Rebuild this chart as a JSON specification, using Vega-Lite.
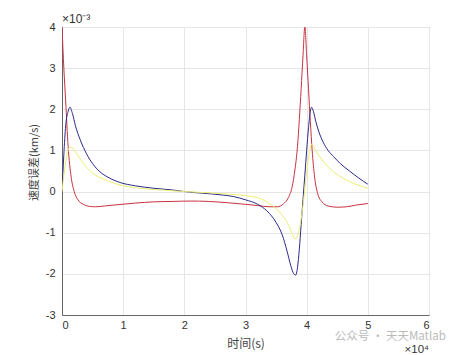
{
  "$schema": "https://vega.github.io/schema/vega-lite/v6.json",
  "width": 367,
  "height": 288,
  "autosize": {"type": "none"},
  "padding": {"left": 62, "top": 27, "right": 45, "bottom": 40},
  "background": "white",
  "config": {
    "view": {"stroke": "#666", "strokeWidth": 1},
    "axis": {
      "labelFont": "Liberation Sans",
      "labelFontSize": 11,
      "labelColor": "#333",
      "domainColor": "#666",
      "gridColor": "#e6e6e6",
      "ticks": false,
      "titleFontWeight": "normal",
      "titleColor": "#444",
      "titleFont": "Noto Sans CJK SC"
    }
  },
  "datasets": {
    "curves": [
      {"t": 0, "v": 4.0, "s": "r"},
      {"t": 0.03, "v": 3.0, "s": "r"},
      {"t": 0.06, "v": 2.2, "s": "r"},
      {"t": 0.1, "v": 1.1, "s": "r"},
      {"t": 0.15, "v": 0.35, "s": "r"},
      {"t": 0.2, "v": 0.0, "s": "r"},
      {"t": 0.26, "v": -0.2, "s": "r"},
      {"t": 0.35, "v": -0.31, "s": "r"},
      {"t": 0.45, "v": -0.36, "s": "r"},
      {"t": 0.55, "v": -0.37, "s": "r"},
      {"t": 0.7, "v": -0.35, "s": "r"},
      {"t": 0.9, "v": -0.32, "s": "r"},
      {"t": 1.2, "v": -0.28, "s": "r"},
      {"t": 1.5, "v": -0.25, "s": "r"},
      {"t": 1.8, "v": -0.24, "s": "r"},
      {"t": 2.1, "v": -0.23, "s": "r"},
      {"t": 2.4, "v": -0.24, "s": "r"},
      {"t": 2.7, "v": -0.27, "s": "r"},
      {"t": 3.0, "v": -0.31, "s": "r"},
      {"t": 3.2, "v": -0.34, "s": "r"},
      {"t": 3.4, "v": -0.37, "s": "r"},
      {"t": 3.52, "v": -0.37, "s": "r"},
      {"t": 3.62, "v": -0.3, "s": "r"},
      {"t": 3.7, "v": -0.15, "s": "r"},
      {"t": 3.76, "v": 0.1, "s": "r"},
      {"t": 3.81, "v": 0.55, "s": "r"},
      {"t": 3.85, "v": 1.1, "s": "r"},
      {"t": 3.88, "v": 1.75, "s": "r"},
      {"t": 3.91, "v": 2.5, "s": "r"},
      {"t": 3.94, "v": 3.3, "s": "r"},
      {"t": 3.97, "v": 4.0, "s": "r"},
      {"t": 4.0, "v": 3.3, "s": "r"},
      {"t": 4.03, "v": 2.5, "s": "r"},
      {"t": 4.06, "v": 1.7, "s": "r"},
      {"t": 4.09, "v": 1.0, "s": "r"},
      {"t": 4.13, "v": 0.35, "s": "r"},
      {"t": 4.18, "v": -0.05, "s": "r"},
      {"t": 4.25, "v": -0.25, "s": "r"},
      {"t": 4.35, "v": -0.35, "s": "r"},
      {"t": 4.5, "v": -0.38, "s": "r"},
      {"t": 4.65, "v": -0.37, "s": "r"},
      {"t": 4.8, "v": -0.33, "s": "r"},
      {"t": 5.0, "v": -0.29, "s": "r"},

      {"t": 0, "v": 0.0, "s": "b"},
      {"t": 0.03, "v": 0.9, "s": "b"},
      {"t": 0.06, "v": 1.6, "s": "b"},
      {"t": 0.1, "v": 1.95, "s": "b"},
      {"t": 0.13, "v": 2.05, "s": "b"},
      {"t": 0.17, "v": 1.9, "s": "b"},
      {"t": 0.22, "v": 1.6, "s": "b"},
      {"t": 0.3, "v": 1.25, "s": "b"},
      {"t": 0.4, "v": 0.92, "s": "b"},
      {"t": 0.5, "v": 0.68, "s": "b"},
      {"t": 0.62, "v": 0.48, "s": "b"},
      {"t": 0.75, "v": 0.35, "s": "b"},
      {"t": 0.95, "v": 0.22, "s": "b"},
      {"t": 1.2, "v": 0.14, "s": "b"},
      {"t": 1.5, "v": 0.08, "s": "b"},
      {"t": 1.8, "v": 0.04, "s": "b"},
      {"t": 2.0, "v": 0.0, "s": "b"},
      {"t": 2.3, "v": -0.04, "s": "b"},
      {"t": 2.6, "v": -0.08, "s": "b"},
      {"t": 2.8, "v": -0.12, "s": "b"},
      {"t": 3.0, "v": -0.2, "s": "b"},
      {"t": 3.2, "v": -0.31, "s": "b"},
      {"t": 3.35, "v": -0.47, "s": "b"},
      {"t": 3.5, "v": -0.75, "s": "b"},
      {"t": 3.6, "v": -1.05, "s": "b"},
      {"t": 3.68, "v": -1.45, "s": "b"},
      {"t": 3.74, "v": -1.8, "s": "b"},
      {"t": 3.79, "v": -2.0, "s": "b"},
      {"t": 3.82, "v": -2.03, "s": "b"},
      {"t": 3.85, "v": -1.85, "s": "b"},
      {"t": 3.88, "v": -1.4, "s": "b"},
      {"t": 3.91, "v": -0.8, "s": "b"},
      {"t": 3.94, "v": -0.2, "s": "b"},
      {"t": 3.97, "v": 0.4, "s": "b"},
      {"t": 4.0, "v": 1.0, "s": "b"},
      {"t": 4.03, "v": 1.55, "s": "b"},
      {"t": 4.06, "v": 1.95, "s": "b"},
      {"t": 4.08, "v": 2.05, "s": "b"},
      {"t": 4.11, "v": 1.95, "s": "b"},
      {"t": 4.15, "v": 1.7, "s": "b"},
      {"t": 4.2, "v": 1.45, "s": "b"},
      {"t": 4.27, "v": 1.2, "s": "b"},
      {"t": 4.35, "v": 1.0, "s": "b"},
      {"t": 4.44, "v": 0.85, "s": "b"},
      {"t": 4.55, "v": 0.68, "s": "b"},
      {"t": 4.7, "v": 0.5, "s": "b"},
      {"t": 4.85, "v": 0.33, "s": "b"},
      {"t": 5.0, "v": 0.18, "s": "b"},

      {"t": 0, "v": 0.0, "s": "y"},
      {"t": 0.04, "v": 0.5, "s": "y"},
      {"t": 0.08, "v": 0.9, "s": "y"},
      {"t": 0.13, "v": 1.08, "s": "y"},
      {"t": 0.18, "v": 1.05, "s": "y"},
      {"t": 0.25, "v": 0.9, "s": "y"},
      {"t": 0.35, "v": 0.68, "s": "y"},
      {"t": 0.5, "v": 0.45, "s": "y"},
      {"t": 0.7, "v": 0.29, "s": "y"},
      {"t": 0.9, "v": 0.18, "s": "y"},
      {"t": 1.28, "v": 0.08, "s": "y"},
      {"t": 1.6, "v": 0.04, "s": "y"},
      {"t": 2.0, "v": 0.0, "s": "y"},
      {"t": 2.4, "v": -0.03, "s": "y"},
      {"t": 2.7, "v": -0.06, "s": "y"},
      {"t": 3.0, "v": -0.1, "s": "y"},
      {"t": 3.24, "v": -0.17, "s": "y"},
      {"t": 3.4, "v": -0.3, "s": "y"},
      {"t": 3.57, "v": -0.52, "s": "y"},
      {"t": 3.7, "v": -0.8, "s": "y"},
      {"t": 3.77, "v": -1.05, "s": "y"},
      {"t": 3.81, "v": -1.15, "s": "y"},
      {"t": 3.85, "v": -1.07, "s": "y"},
      {"t": 3.9, "v": -0.75, "s": "y"},
      {"t": 3.94, "v": -0.35, "s": "y"},
      {"t": 3.98, "v": 0.2, "s": "y"},
      {"t": 4.02, "v": 0.7, "s": "y"},
      {"t": 4.06, "v": 1.08, "s": "y"},
      {"t": 4.09, "v": 1.15, "s": "y"},
      {"t": 4.13, "v": 1.05, "s": "y"},
      {"t": 4.2, "v": 0.88, "s": "y"},
      {"t": 4.3, "v": 0.68, "s": "y"},
      {"t": 4.44, "v": 0.48, "s": "y"},
      {"t": 4.6, "v": 0.32, "s": "y"},
      {"t": 4.8, "v": 0.18, "s": "y"},
      {"t": 5.0, "v": 0.08, "s": "y"}
    ]
  },
  "layer": [
    {
      "data": {"name": "curves"},
      "mark": {"type": "line", "interpolate": "monotone", "strokeWidth": 1, "clip": true},
      "encoding": {
        "x": {
          "field": "t", "type": "quantitative",
          "scale": {"domain": [0, 6], "nice": false},
          "axis": {
            "values": [0, 1, 2, 3, 4, 5, 6],
            "labelExpr": "'' + datum.value",
            "labelPadding": 4,
            "title": "时间(s)",
            "titleFontSize": 12,
            "titleY": 28,
            "titleBaseline": "middle"
          }
        },
        "y": {
          "field": "v", "type": "quantitative",
          "scale": {"domain": [-3, 4], "nice": false},
          "axis": {
            "values": [-3, -2, -1, 0, 1, 2, 3, 4],
            "labelExpr": "'' + datum.value",
            "labelPadding": 7,
            "title": "速度误差(km/s)",
            "titleFontSize": 11,
            "titleX": -28,
            "titleY": 135,
            "titleBaseline": "middle"
          }
        },
        "color": {
          "field": "s", "type": "nominal",
          "scale": {"domain": ["r", "b", "y"], "range": ["#c8323e", "#2a2a8a", "#eded70"]},
          "legend": null
        }
      }
    },
    {
      "data": {"values": [{}]},
      "mark": {"type": "text", "text": "×10⁻³", "align": "left", "baseline": "alphabetic", "dy": -4, "font": "Liberation Sans", "fontSize": 12, "color": "#333"},
      "encoding": {"x": {"datum": 0, "type": "quantitative"}, "y": {"datum": 4, "type": "quantitative"}}
    },
    {
      "data": {"values": [{}]},
      "mark": {"type": "text", "text": "×10⁴", "align": "right", "baseline": "alphabetic", "dy": 38, "font": "Liberation Sans", "fontSize": 11.5, "color": "#333"},
      "encoding": {"x": {"datum": 6, "type": "quantitative"}, "y": {"datum": -3, "type": "quantitative"}}
    },
    {
      "data": {"values": [{}]},
      "mark": {"type": "text", "text": "公众号 · 天天Matlab", "align": "left", "baseline": "middle", "dy": 22, "font": "Noto Sans CJK SC", "fontSize": 11.5, "color": "#b0b0b0", "opacity": 0.85},
      "encoding": {"x": {"datum": 4.46, "type": "quantitative"}, "y": {"datum": -3, "type": "quantitative"}}
    }
  ]
}
